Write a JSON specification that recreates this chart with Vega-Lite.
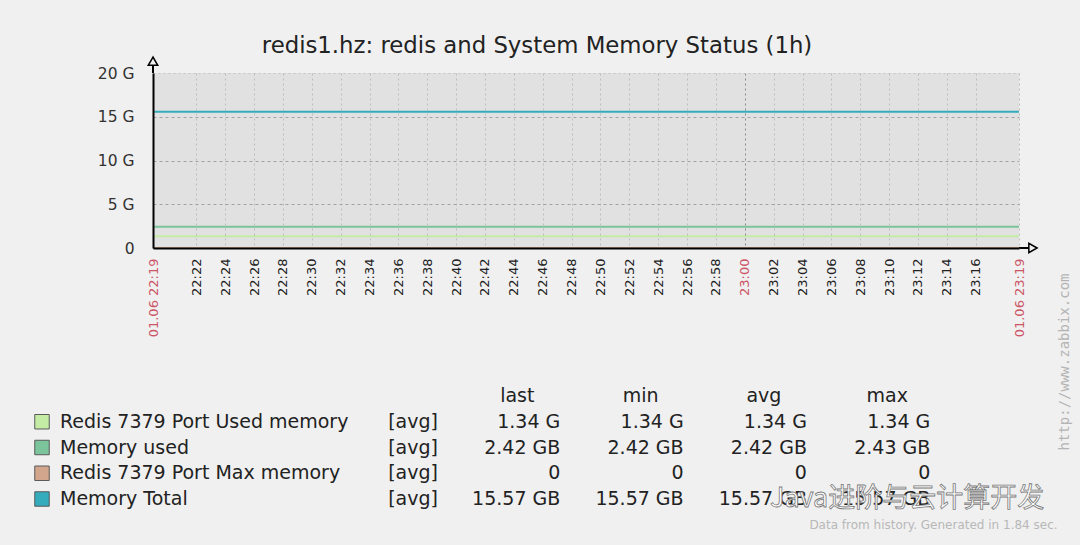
{
  "$schema": "https://vega.github.io/schema/vega-lite/v6.json",
  "width": 866,
  "height": 175,
  "autosize": {"type": "none"},
  "padding": {"left": 153, "top": 73, "right": 61, "bottom": 297},
  "background": "#f0f0f0",
  "title": {
    "text": "redis1.hz: redis and System Memory Status (1h)",
    "anchor": "middle",
    "dx": -49,
    "dy": 18,
    "font": "DejaVu Sans",
    "fontSize": 22.8,
    "fontWeight": "normal",
    "color": "#222222",
    "offset": 14
  },
  "datasets": {
    "series": [
      {"time": "2020-01-06T22:19:00", "series": "Redis 7379 Port Used memory", "value": 1.34},
      {"time": "2020-01-06T22:29:00", "series": "Redis 7379 Port Used memory", "value": 1.34},
      {"time": "2020-01-06T22:39:00", "series": "Redis 7379 Port Used memory", "value": 1.34},
      {"time": "2020-01-06T22:49:00", "series": "Redis 7379 Port Used memory", "value": 1.34},
      {"time": "2020-01-06T22:59:00", "series": "Redis 7379 Port Used memory", "value": 1.34},
      {"time": "2020-01-06T23:09:00", "series": "Redis 7379 Port Used memory", "value": 1.34},
      {"time": "2020-01-06T23:19:00", "series": "Redis 7379 Port Used memory", "value": 1.34},
      {"time": "2020-01-06T22:19:00", "series": "Memory used", "value": 2.42},
      {"time": "2020-01-06T22:29:00", "series": "Memory used", "value": 2.42},
      {"time": "2020-01-06T22:39:00", "series": "Memory used", "value": 2.43},
      {"time": "2020-01-06T22:49:00", "series": "Memory used", "value": 2.42},
      {"time": "2020-01-06T22:59:00", "series": "Memory used", "value": 2.42},
      {"time": "2020-01-06T23:09:00", "series": "Memory used", "value": 2.42},
      {"time": "2020-01-06T23:19:00", "series": "Memory used", "value": 2.42},
      {"time": "2020-01-06T22:19:00", "series": "Redis 7379 Port Max memory", "value": 0},
      {"time": "2020-01-06T22:49:00", "series": "Redis 7379 Port Max memory", "value": 0},
      {"time": "2020-01-06T23:19:00", "series": "Redis 7379 Port Max memory", "value": 0},
      {"time": "2020-01-06T22:19:00", "series": "Memory Total", "value": 15.57},
      {"time": "2020-01-06T22:29:00", "series": "Memory Total", "value": 15.57},
      {"time": "2020-01-06T22:39:00", "series": "Memory Total", "value": 15.57},
      {"time": "2020-01-06T22:49:00", "series": "Memory Total", "value": 15.57},
      {"time": "2020-01-06T22:59:00", "series": "Memory Total", "value": 15.57},
      {"time": "2020-01-06T23:09:00", "series": "Memory Total", "value": 15.57},
      {"time": "2020-01-06T23:19:00", "series": "Memory Total", "value": 15.57}
    ],
    "stats": [
      {"series": "Redis 7379 Port Used memory", "func": "[avg]", "last": "1.34 G", "min": "1.34 G", "avg": "1.34 G", "max": "1.34 G"},
      {"series": "Memory used", "func": "[avg]", "last": "2.42 GB", "min": "2.42 GB", "avg": "2.42 GB", "max": "2.43 GB"},
      {"series": "Redis 7379 Port Max memory", "func": "[avg]", "last": "0", "min": "0", "avg": "0", "max": "0"},
      {"series": "Memory Total", "func": "[avg]", "last": "15.57 GB", "min": "15.57 GB", "avg": "15.57 GB", "max": "15.57 GB"}
    ]
  },
  "layer": [
    {
      "layer": [
        {
          "data": {"name": "series"},
          "mark": {"type": "line", "strokeWidth": 2},
          "encoding": {
            "x": {
              "field": "time",
              "type": "temporal",
              "scale": {
                "domain": [
                  {"year": 2020, "month": 1, "date": 6, "hours": 22, "minutes": 19},
                  {"year": 2020, "month": 1, "date": 6, "hours": 23, "minutes": 19}
                ],
                "nice": false
              },
              "axis": {
                "values": [
                  {"year": 2020, "month": 1, "date": 6, "hours": 22, "minutes": 19},
                  {"year": 2020, "month": 1, "date": 6, "hours": 22, "minutes": 22},
                  {"year": 2020, "month": 1, "date": 6, "hours": 22, "minutes": 24},
                  {"year": 2020, "month": 1, "date": 6, "hours": 22, "minutes": 26},
                  {"year": 2020, "month": 1, "date": 6, "hours": 22, "minutes": 28},
                  {"year": 2020, "month": 1, "date": 6, "hours": 22, "minutes": 30},
                  {"year": 2020, "month": 1, "date": 6, "hours": 22, "minutes": 32},
                  {"year": 2020, "month": 1, "date": 6, "hours": 22, "minutes": 34},
                  {"year": 2020, "month": 1, "date": 6, "hours": 22, "minutes": 36},
                  {"year": 2020, "month": 1, "date": 6, "hours": 22, "minutes": 38},
                  {"year": 2020, "month": 1, "date": 6, "hours": 22, "minutes": 40},
                  {"year": 2020, "month": 1, "date": 6, "hours": 22, "minutes": 42},
                  {"year": 2020, "month": 1, "date": 6, "hours": 22, "minutes": 44},
                  {"year": 2020, "month": 1, "date": 6, "hours": 22, "minutes": 46},
                  {"year": 2020, "month": 1, "date": 6, "hours": 22, "minutes": 48},
                  {"year": 2020, "month": 1, "date": 6, "hours": 22, "minutes": 50},
                  {"year": 2020, "month": 1, "date": 6, "hours": 22, "minutes": 52},
                  {"year": 2020, "month": 1, "date": 6, "hours": 22, "minutes": 54},
                  {"year": 2020, "month": 1, "date": 6, "hours": 22, "minutes": 56},
                  {"year": 2020, "month": 1, "date": 6, "hours": 22, "minutes": 58},
                  {"year": 2020, "month": 1, "date": 6, "hours": 23, "minutes": 0},
                  {"year": 2020, "month": 1, "date": 6, "hours": 23, "minutes": 2},
                  {"year": 2020, "month": 1, "date": 6, "hours": 23, "minutes": 4},
                  {"year": 2020, "month": 1, "date": 6, "hours": 23, "minutes": 6},
                  {"year": 2020, "month": 1, "date": 6, "hours": 23, "minutes": 8},
                  {"year": 2020, "month": 1, "date": 6, "hours": 23, "minutes": 10},
                  {"year": 2020, "month": 1, "date": 6, "hours": 23, "minutes": 12},
                  {"year": 2020, "month": 1, "date": 6, "hours": 23, "minutes": 14},
                  {"year": 2020, "month": 1, "date": 6, "hours": 23, "minutes": 16},
                  {"year": 2020, "month": 1, "date": 6, "hours": 23, "minutes": 19}
                ],
                "tickCount": 100,
                "labelExpr": "minutes(datum.value) == 19 ? timeFormat(datum.value, '%m.%d %H:%M') : timeFormat(datum.value, '%H:%M')",
                "labelAngle": 270,
                "labelFont": "DejaVu Sans",
                "labelFontSize": 13,
                "labelColor": {"condition": {"test": "minutes(datum.value) == 19 || (hours(datum.value) == 23 && minutes(datum.value) == 0)", "value": "#cc5566"}, "value": "#222222"},
                "labelPadding": 10,
                "labelOverlap": false,
                "labelFlush": false,
                "labelBound": false,
                "ticks": false,
                "domainColor": "#000000",
                "domainWidth": 2,
                "grid": true,
                "gridColor": {"condition": {"test": "hours(datum.value) == 23 && minutes(datum.value) == 0", "value": "#8a8a8a"}, "value": "#bdbdbd"},
                "gridDash": [2, 3],
                "gridWidth": 1,
                "title": null,
                "zindex": 1
              }
            },
            "y": {
              "field": "value",
              "type": "quantitative",
              "scale": {"domain": [0, 20], "nice": false, "zero": true},
              "axis": {
                "values": [0, 5, 10, 15, 20],
                "tickCount": 20,
                "labelExpr": "datum.value == 0 ? '0' : datum.value + ' G'",
                "labelFont": "DejaVu Sans",
                "labelFontSize": 15.5,
                "labelColor": "#333333",
                "ticks": false,
                "labelPadding": 19,
                "domainColor": "#000000",
                "domainWidth": 2,
                "grid": true,
                "gridColor": {"condition": {"test": "datum.value == 20", "value": "#c4c4c4"}, "value": "#a2a2a2"},
                "gridDash": {"condition": {"test": "datum.value == 20", "value": [2, 3]}, "value": [3, 3]},
                "title": null,
                "zindex": 1
              }
            },
            "color": {
              "field": "series",
              "type": "nominal",
              "scale": {
                "domain": ["Redis 7379 Port Used memory", "Memory used", "Redis 7379 Port Max memory", "Memory Total"],
                "range": ["#c4eca4", "#7cc49c", "#d2a68c", "#34acbc"]
              },
              "legend": null
            }
          }
        },
        {
          "data": {"values": [{}]},
          "mark": {"type": "rule", "color": "#000000", "strokeWidth": 2},
          "encoding": {
            "x": {"datum": {"year": 2020, "month": 1, "date": 6, "hours": 22, "minutes": 19}, "type": "temporal"},
            "y": {"datum": 20, "type": "quantitative"},
            "y2": {"datum": 21.2}
          }
        },
        {
          "data": {"values": [{}]},
          "mark": {"type": "point", "shape": "triangle-up", "size": 90, "filled": true, "fill": "#f0f0f0", "stroke": "#000000", "strokeWidth": 1.5, "opacity": 1},
          "encoding": {
            "x": {"datum": {"year": 2020, "month": 1, "date": 6, "hours": 22, "minutes": 19}, "type": "temporal"},
            "y": {"datum": 21.35, "type": "quantitative"}
          }
        },
        {
          "data": {"values": [{}]},
          "mark": {"type": "rule", "color": "#000000", "strokeWidth": 2},
          "encoding": {
            "x": {"datum": {"year": 2020, "month": 1, "date": 6, "hours": 23, "minutes": 19}, "type": "temporal"},
            "x2": {"datum": {"year": 2020, "month": 1, "date": 6, "hours": 23, "minutes": 19, "seconds": 50}},
            "y": {"datum": 0, "type": "quantitative"}
          }
        },
        {
          "data": {"values": [{}]},
          "mark": {"type": "point", "shape": "triangle-right", "size": 90, "filled": true, "fill": "#f0f0f0", "stroke": "#000000", "strokeWidth": 1.5, "opacity": 1},
          "encoding": {
            "x": {"datum": {"year": 2020, "month": 1, "date": 6, "hours": 23, "minutes": 19, "seconds": 58}, "type": "temporal"},
            "y": {"datum": 0, "type": "quantitative"}
          }
        }
      ]
    },
    {
      "data": {"name": "stats"},
      "layer": [
        {
          "mark": {"type": "point", "shape": "square", "filled": true, "size": 210, "stroke": "#5a5a5a", "strokeWidth": 1, "opacity": 1, "xOffset": -25},
          "encoding": {
            "x": {
              "datum": "name",
              "type": "nominal",
              "scale": {"type": "point", "domain": ["name", "_a", "_b", "func", "last", "min", "avg", "max", "_c"], "range": [-86, 900.6], "padding": 0},
              "axis": null
            },
            "y": {
              "field": "series",
              "type": "nominal",
              "scale": {"type": "point", "domain": ["header", "Redis 7379 Port Used memory", "Memory used", "Redis 7379 Port Max memory", "Memory Total", "footer"], "range": [323, 451.75], "padding": 0},
              "axis": null
            },
            "color": {"field": "series", "type": "nominal", "legend": null}
          }
        },
        {
          "mark": {"type": "text", "align": "left", "baseline": "middle", "dx": -7, "font": "DejaVu Sans", "fontSize": 19, "color": "#222222"},
          "encoding": {
            "x": {"datum": "name", "type": "nominal", "axis": null},
            "y": {"field": "series", "type": "nominal", "axis": null},
            "text": {"field": "series"}
          }
        },
        {
          "mark": {"type": "text", "align": "right", "baseline": "middle", "dx": 1, "font": "DejaVu Sans", "fontSize": 19, "color": "#222222"},
          "encoding": {
            "x": {"datum": "func", "type": "nominal", "axis": null},
            "y": {"field": "series", "type": "nominal", "axis": null},
            "text": {"field": "func"}
          }
        },
        {
          "transform": [{"fold": ["last", "min", "avg", "max"], "as": ["stat", "val"]}],
          "mark": {"type": "text", "align": "right", "baseline": "middle", "font": "DejaVu Sans", "fontSize": 19, "color": "#222222"},
          "encoding": {
            "x": {"field": "stat", "type": "nominal", "axis": null},
            "y": {"field": "series", "type": "nominal", "axis": null},
            "text": {"field": "val"}
          }
        },
        {
          "data": {"values": [{"stat": "last"}, {"stat": "min"}, {"stat": "avg"}, {"stat": "max"}]},
          "mark": {"type": "text", "align": "center", "baseline": "middle", "dx": -43, "font": "DejaVu Sans", "fontSize": 19, "color": "#222222"},
          "encoding": {
            "x": {"field": "stat", "type": "nominal", "axis": null},
            "y": {"datum": "header", "type": "nominal", "axis": null},
            "text": {"field": "stat"}
          }
        },
        {
          "data": {"values": [{"note": "Data from history. Generated in 1.84 sec."}]},
          "mark": {"type": "text", "align": "right", "baseline": "middle", "dx": 4, "font": "DejaVu Sans", "fontSize": 12, "color": "#b8b8b8"},
          "encoding": {
            "x": {"datum": "_c", "type": "nominal", "axis": null},
            "y": {"datum": "footer", "type": "nominal", "axis": null},
            "text": {"field": "note"}
          }
        },
        {
          "data": {"values": [{"note": "http://www.zabbix.com"}]},
          "mark": {"type": "text", "angle": 270, "align": "center", "baseline": "middle", "dx": 34, "dy": 11, "font": "DejaVu Sans Mono", "fontSize": 14, "color": "#b4b4b4"},
          "encoding": {
            "x": {"datum": "_c", "type": "nominal", "axis": null},
            "y": {"datum": "header", "type": "nominal", "axis": null},
            "text": {"field": "note"}
          }
        },
        {
          "data": {"values": [{"note": "Java进阶与云计算开发"}]},
          "mark": {"type": "text", "align": "left", "baseline": "middle", "dx": -37, "font": "Noto Sans CJK SC", "fontSize": 27, "fill": "#ffffff", "stroke": "#7a7a7a", "strokeWidth": 0.8},
          "encoding": {
            "x": {"datum": "avg", "type": "nominal", "axis": null},
            "y": {"datum": "Memory Total", "type": "nominal", "axis": null},
            "text": {"field": "note"}
          }
        }
      ]
    }
  ],
  "resolve": {"scale": {"x": "independent", "y": "independent"}},
  "config": {
    "view": {"fill": "#e1e1e1", "stroke": null}
  }
}
